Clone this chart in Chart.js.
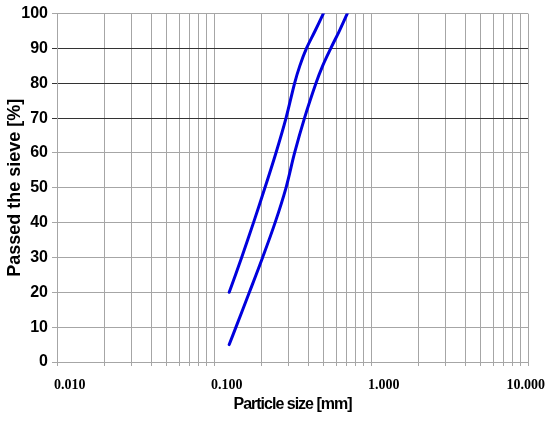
<!DOCTYPE html>
<html lang="en">
<head>
    <meta charset="UTF-8">
    <title>Particle size distribution</title>
    <script src="https://cdn.jsdelivr.net/npm/chart.js@4.4.1/dist/chart.umd.min.js"></script>
    <style>
        body { margin: 0; background: #fff; }
        #wrap { width: 550px; height: 422px; }
    </style>
</head>
<body>
<div id="wrap"><canvas id="sieveChart" width="550" height="422"></canvas></div>
<script>
    // upper curve (fine limit)
    var sizeA = [0.125, 0.150, 0.1785, 0.211, 0.248, 0.2875, 0.326, 0.352, 0.388, 0.440, 0.497];
    var passA = [20, 30, 40, 50, 60, 70, 80, 85, 90, 95, 100];
    // lower curve (coarse limit)
    var sizeB = [0.125, 0.138, 0.168, 0.204, 0.245, 0.2875, 0.326, 0.377, 0.446, 0.492, 0.554, 0.628, 0.706];
    var passB = [5, 10, 20, 30, 40, 50, 60, 70, 80, 85, 90, 95, 100];

    var xTickValues = [0.01, 0.1, 1, 10];
    var xTickLabels = ['0.010', '0.100', '1.000', '10.000'];
    var darkRows = [70, 80, 90];

    function toPoints(xs, ys) {
        var pts = [];
        for (var i = 0; i < xs.length; i++) {
            pts.push({ x: xs[i], y: ys[i] });
        }
        return pts;
    }

    // grid lines at 1..9 of every decade
    var gridValues = [];
    xTickValues.forEach(function(dec, i) {
        if (i == xTickValues.length - 1) {
            gridValues.push(dec);
            return;
        }
        for (var k = 1; k < 10; k++) {
            gridValues.push(+(dec * k).toPrecision(3));
        }
    });

    // x tick labels and x title drawn by hand (Excel style placement)
    var xLabelsPlugin = {
        id: 'xLabels',
        afterDraw: function(chart) {
            var ctx = chart.ctx;
            var xs = chart.scales.x;
            ctx.save();
            ctx.fillStyle = '#000';
            ctx.textBaseline = 'middle';
            ctx.textAlign = 'left';
            ctx.font = 'bold 14px "Liberation Serif"';
            xTickValues.forEach(function(v, i) {
                var txt = xTickLabels[i];
                var w = ctx.measureText(txt).width;
                var px = xs.getPixelForValue(v) - 3;
                px = Math.min(px, chart.width - 5 - w);
                ctx.fillText(txt, px, xs.top + 23);
            });
            ctx.font = 'bold 16px "Liberation Sans"';
            ctx.letterSpacing = '-1px';
            ctx.textAlign = 'center';
            ctx.fillText('Particle size [mm]', (xs.left + xs.right) / 2, xs.top + 43);
            ctx.restore();
        }
    };

    var ctx = document.getElementById('sieveChart').getContext('2d');

    new Chart(ctx, {
        type: 'line',
        data: {
            datasets: [{
                data: toPoints(sizeA, passA),
                borderColor: '#0000dd',
                borderWidth: 3,
                borderCapStyle: 'round',
                pointRadius: 0,
                tension: 0.35,
                fill: false
            }, {
                data: toPoints(sizeB, passB),
                borderColor: '#0000dd',
                borderWidth: 3,
                borderCapStyle: 'round',
                pointRadius: 0,
                tension: 0.35,
                fill: false
            }]
        },
        options: {
            responsive: false,
            animation: false,
            devicePixelRatio: 1,
            layout: {
                padding: { top: 12, right: 22, left: 0, bottom: 0 }
            },
            plugins: {
                legend: { display: false },
                tooltip: { enabled: false }
            },
            scales: {
                x: {
                    type: 'logarithmic',
                    min: 0.01,
                    max: 10,
                    afterBuildTicks: function(scale) {
                        scale.ticks = gridValues.map(function(v) { return { value: v }; });
                    },
                    afterFit: function(scale) {
                        scale.height = 60;
                    },
                    ticks: { display: false },
                    grid: {
                        color: '#a6a6a6',
                        lineWidth: 1,
                        tickLength: 4
                    },
                    border: { color: '#a6a6a6' }
                },
                y: {
                    min: 0,
                    max: 100,
                    afterFit: function(scale) {
                        scale.width = 57;
                    },
                    ticks: {
                        stepSize: 10,
                        padding: 4,
                        color: '#000',
                        font: { family: '"Liberation Sans"', size: 16, weight: 'bold' }
                    },
                    grid: {
                        tickLength: 5,
                        lineWidth: 1,
                        color: function(c) {
                            return darkRows.indexOf(c.tick.value) >= 0 ? '#333333' : '#a6a6a6';
                        }
                    },
                    border: { color: '#a6a6a6' },
                    title: {
                        display: true,
                        text: 'Passed the sieve [%]',
                        color: '#000',
                        padding: { top: 4, bottom: 0 },
                        font: { family: '"Liberation Sans"', size: 18, weight: 'bold' }
                    }
                }
            }
        },
        plugins: [xLabelsPlugin]
    });
</script>
</body>
</html>
